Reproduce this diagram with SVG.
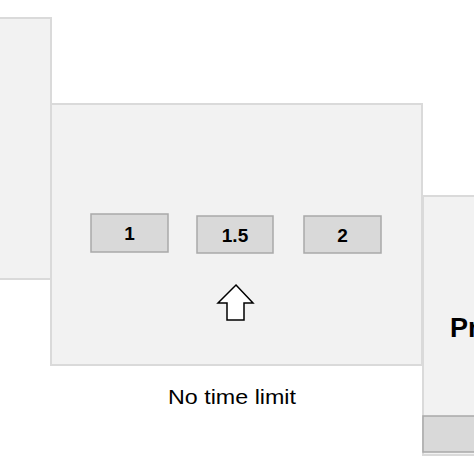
<svg xmlns="http://www.w3.org/2000/svg" width="474" height="474" viewBox="0 0 474 474">
  <style>
    .panel { fill: #f2f2f2; stroke: #dadada; stroke-width: 2; }
    .btn { fill: #d9d9d9; stroke: #a9a9a9; stroke-width: 1.5; }
    .num { font-family: "Liberation Sans", Arial, sans-serif; font-weight: bold; font-size: 19px; fill: #000; text-anchor: middle; }
    .lbl { font-family: "Liberation Sans", Arial, sans-serif; font-size: 20px; fill: #000; }
    .big { font-family: "Liberation Sans", Arial, sans-serif; font-size: 27px; font-weight: bold; fill: #000; }
  </style>
  <rect width="474" height="474" fill="#ffffff"/>
  <g id="left-panel">
    <rect class="panel" x="-2" y="18" width="53" height="261"/>
  </g>
  <g id="right-panel">
    <rect class="panel" x="423" y="196" width="60" height="259"/>
    <rect class="btn" x="423" y="416" width="60" height="36"/>
    <text class="big" x="450" y="337">Pr</text>
  </g>
  <g id="main-panel">
    <rect class="panel" x="51" y="104" width="371" height="261"/>
  </g>
  <g id="btn-1">
    <rect class="btn" x="91" y="214" width="77" height="38"/>
    <text class="num" x="129.5" y="240">1</text>
  </g>
  <g id="btn-1-5">
    <rect class="btn" x="197" y="216" width="76" height="37"/>
    <text class="num" x="235" y="242">1.5</text>
  </g>
  <g id="btn-2">
    <rect class="btn" x="304" y="216" width="77" height="37"/>
    <text class="num" x="342.5" y="242">2</text>
  </g>
  <g id="connectors">
    <path d="M236,285 L253,303 L244,303 L244,320 L227,320 L227,303 L218,303 Z" fill="#ffffff" stroke="#000000" stroke-width="1.5" stroke-linejoin="miter"/>
  </g>
  <g id="caption">
    <text class="lbl" x="168" y="404" textLength="128" lengthAdjust="spacingAndGlyphs">No time limit</text>
  </g>
</svg>
